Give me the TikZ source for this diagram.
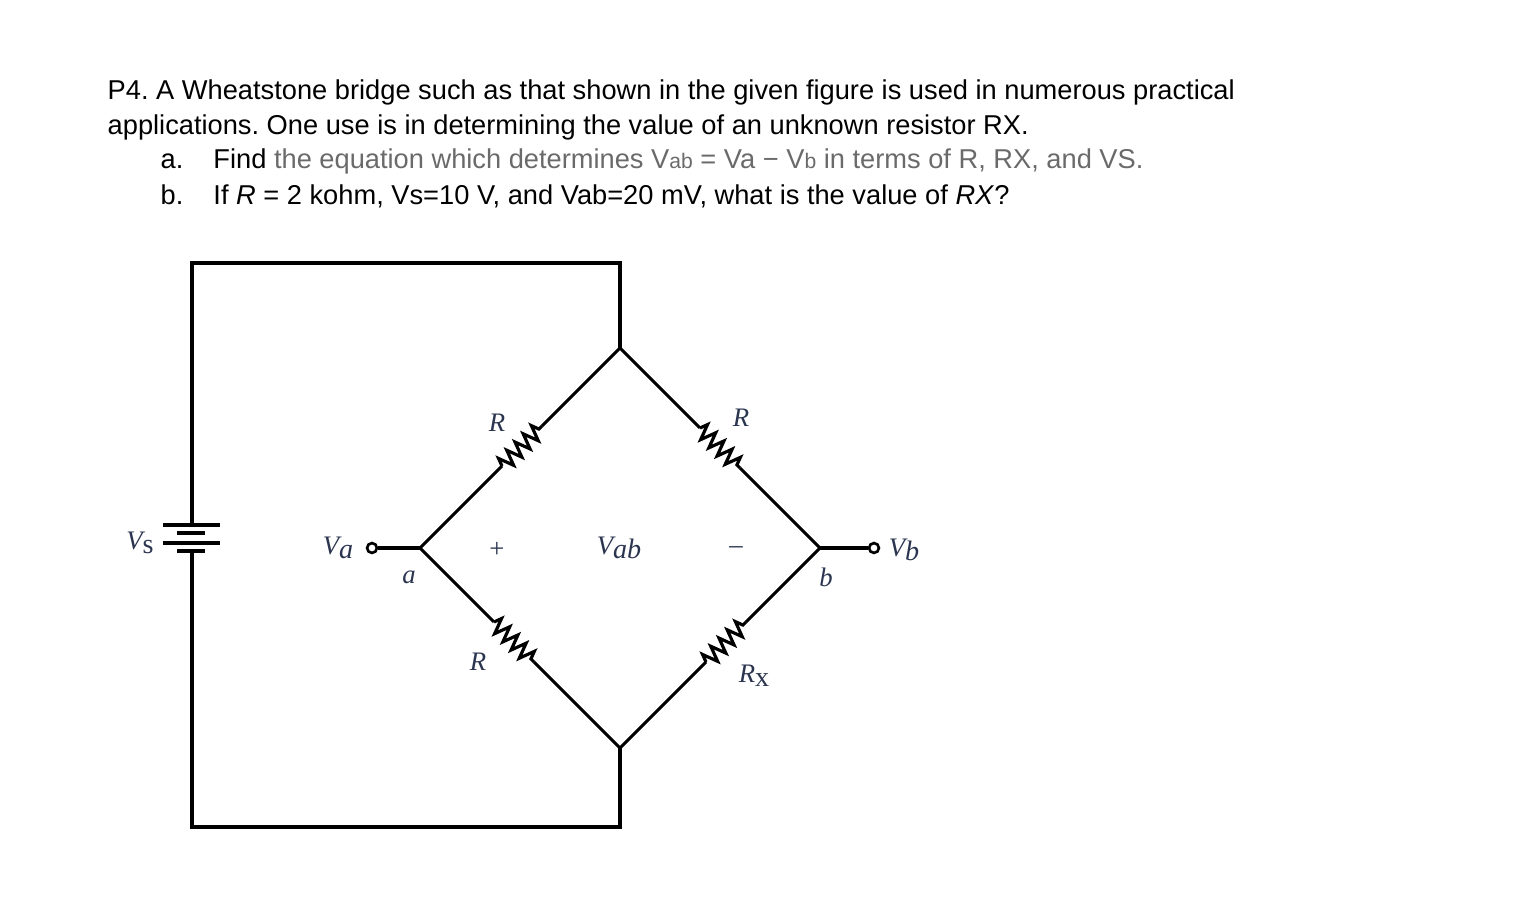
\documentclass[tikz,border=0pt]{standalone}
\usepackage{fontspec}
\setmainfont{Liberation Sans}
\newfontfamily\ser{Liberation Serif}
\usetikzlibrary{decorations.pathmorphing}
\definecolor{gr}{HTML}{6A6A6A}
\definecolor{lab}{HTML}{2B3550}
\frenchspacing
\begin{document}
\begin{tikzpicture}[x=0.01cm,y=-0.01cm,
  wire/.style={line width=0.9pt},
  res/.style={wire,decoration={zigzag,segment length=3.3pt,amplitude=2.2pt,pre length=0pt,post length=0pt},decorate},
  lbl/.style={font=\ser\itshape\fontsize{7.6pt}{8pt}\selectfont,text=lab,inner sep=0pt},
  term/.style={draw,circle,line width=0.75pt,minimum size=2.8pt,inner sep=0pt,fill=white},
  txt/.style={anchor=west,inner sep=0pt,font=\fontsize{7.75pt}{9pt}\selectfont}]
\useasboundingbox (0,0) rectangle (1523,922);
\node[txt] (l1) at (107,92) {P4. A Wheatstone bridge such as that shown in the given figure is used in numerous practical};
\node[txt] (l2) at (107,127) {applications. One use is in determining the value of an unknown resistor RX.};
\node[txt] (l3) at (160,161) {a.\hspace{0.3cm}Find \textcolor{gr}{the equation which determines V{\fontsize{6pt}{7pt}\selectfont ab} = Va − V{\fontsize{6pt}{7pt}\selectfont b} in terms of R, RX, and VS.}};
\node[txt] (l4) at (160,196) {b.\hspace{0.3cm}If \textit{R} = 2 kohm, Vs=10 V, and Vab=20 mV, what is the value of \textit{RX}?};
\coordinate (T) at (620,348); \coordinate (L) at (420,548);
\coordinate (Rt) at (820,548); \coordinate (B) at (620,748);
\coordinate (tl) at (192,263); \coordinate (tr) at (620,263);
\coordinate (bl) at (192,827); \coordinate (br) at (620,827);
\coordinate (p1) at (192,525); \coordinate (p2) at (192,551);
\draw[wire] (p1) -- (tl) -- (tr) -- (T);
\draw[wire] (p2) -- (bl) -- (br) -- (B);
\draw[wire,line width=1.1pt] (163,525) -- (220,525);
\draw[wire,line width=1.1pt] (177,533) -- (205,533);
\draw[wire,line width=1.1pt] (163,543) -- (220,543);
\draw[wire,line width=1.1pt] (177,551) -- (205,551);
\draw[wire] (L) -- (502,466);
\draw[res] (502,466) -- (542,426);
\draw[wire] (542,426) -- (T);
\draw[wire] (T) -- (700,428);
\draw[res] (700,428) -- (740,468);
\draw[wire] (740,468) -- (Rt);
\draw[wire] (L) -- (494,622);
\draw[res] (494,622) -- (534,662);
\draw[wire] (534,662) -- (B);
\draw[wire] (B) -- (706,662);
\draw[res] (706,662) -- (746,622);
\draw[wire] (746,622) -- (Rt);
\node[term] (ta) at (372,548) {};
\node[term] (tb) at (874,548) {};
\draw[wire] (ta) -- (L);
\draw[wire] (Rt) -- (tb);
\node[lbl] (vs) at (140,543) {V\raisebox{-0.35ex}{\footnotesize\textsc{s}}};
\node[lbl] (va) at (338,548) {V\raisebox{-0.35ex}{\footnotesize a}};
\node[lbl] (vb) at (904,550) {V\raisebox{-0.35ex}{\footnotesize b}};
\node[lbl] (vab) at (619,548) {V\raisebox{-0.35ex}{\footnotesize ab}};
\node[lbl] (la) at (409,577) {a};
\node[lbl] (lb) at (826,577) {b};
\node[lbl] (r1) at (497,423) {R};
\node[lbl] (r2) at (741,418) {R};
\node[lbl] (r3) at (478,662) {R};
\node[lbl] (r4) at (754,676) {R\raisebox{-0.35ex}{\footnotesize\textsc{x}}};
\node[lbl,font=\ser\fontsize{7.6pt}{8pt}\selectfont] (pl) at (497,550) {+};
\node[lbl,font=\ser\fontsize{7.6pt}{8pt}\selectfont] (mi) at (736,550) {–};
\end{tikzpicture}
\end{document}
